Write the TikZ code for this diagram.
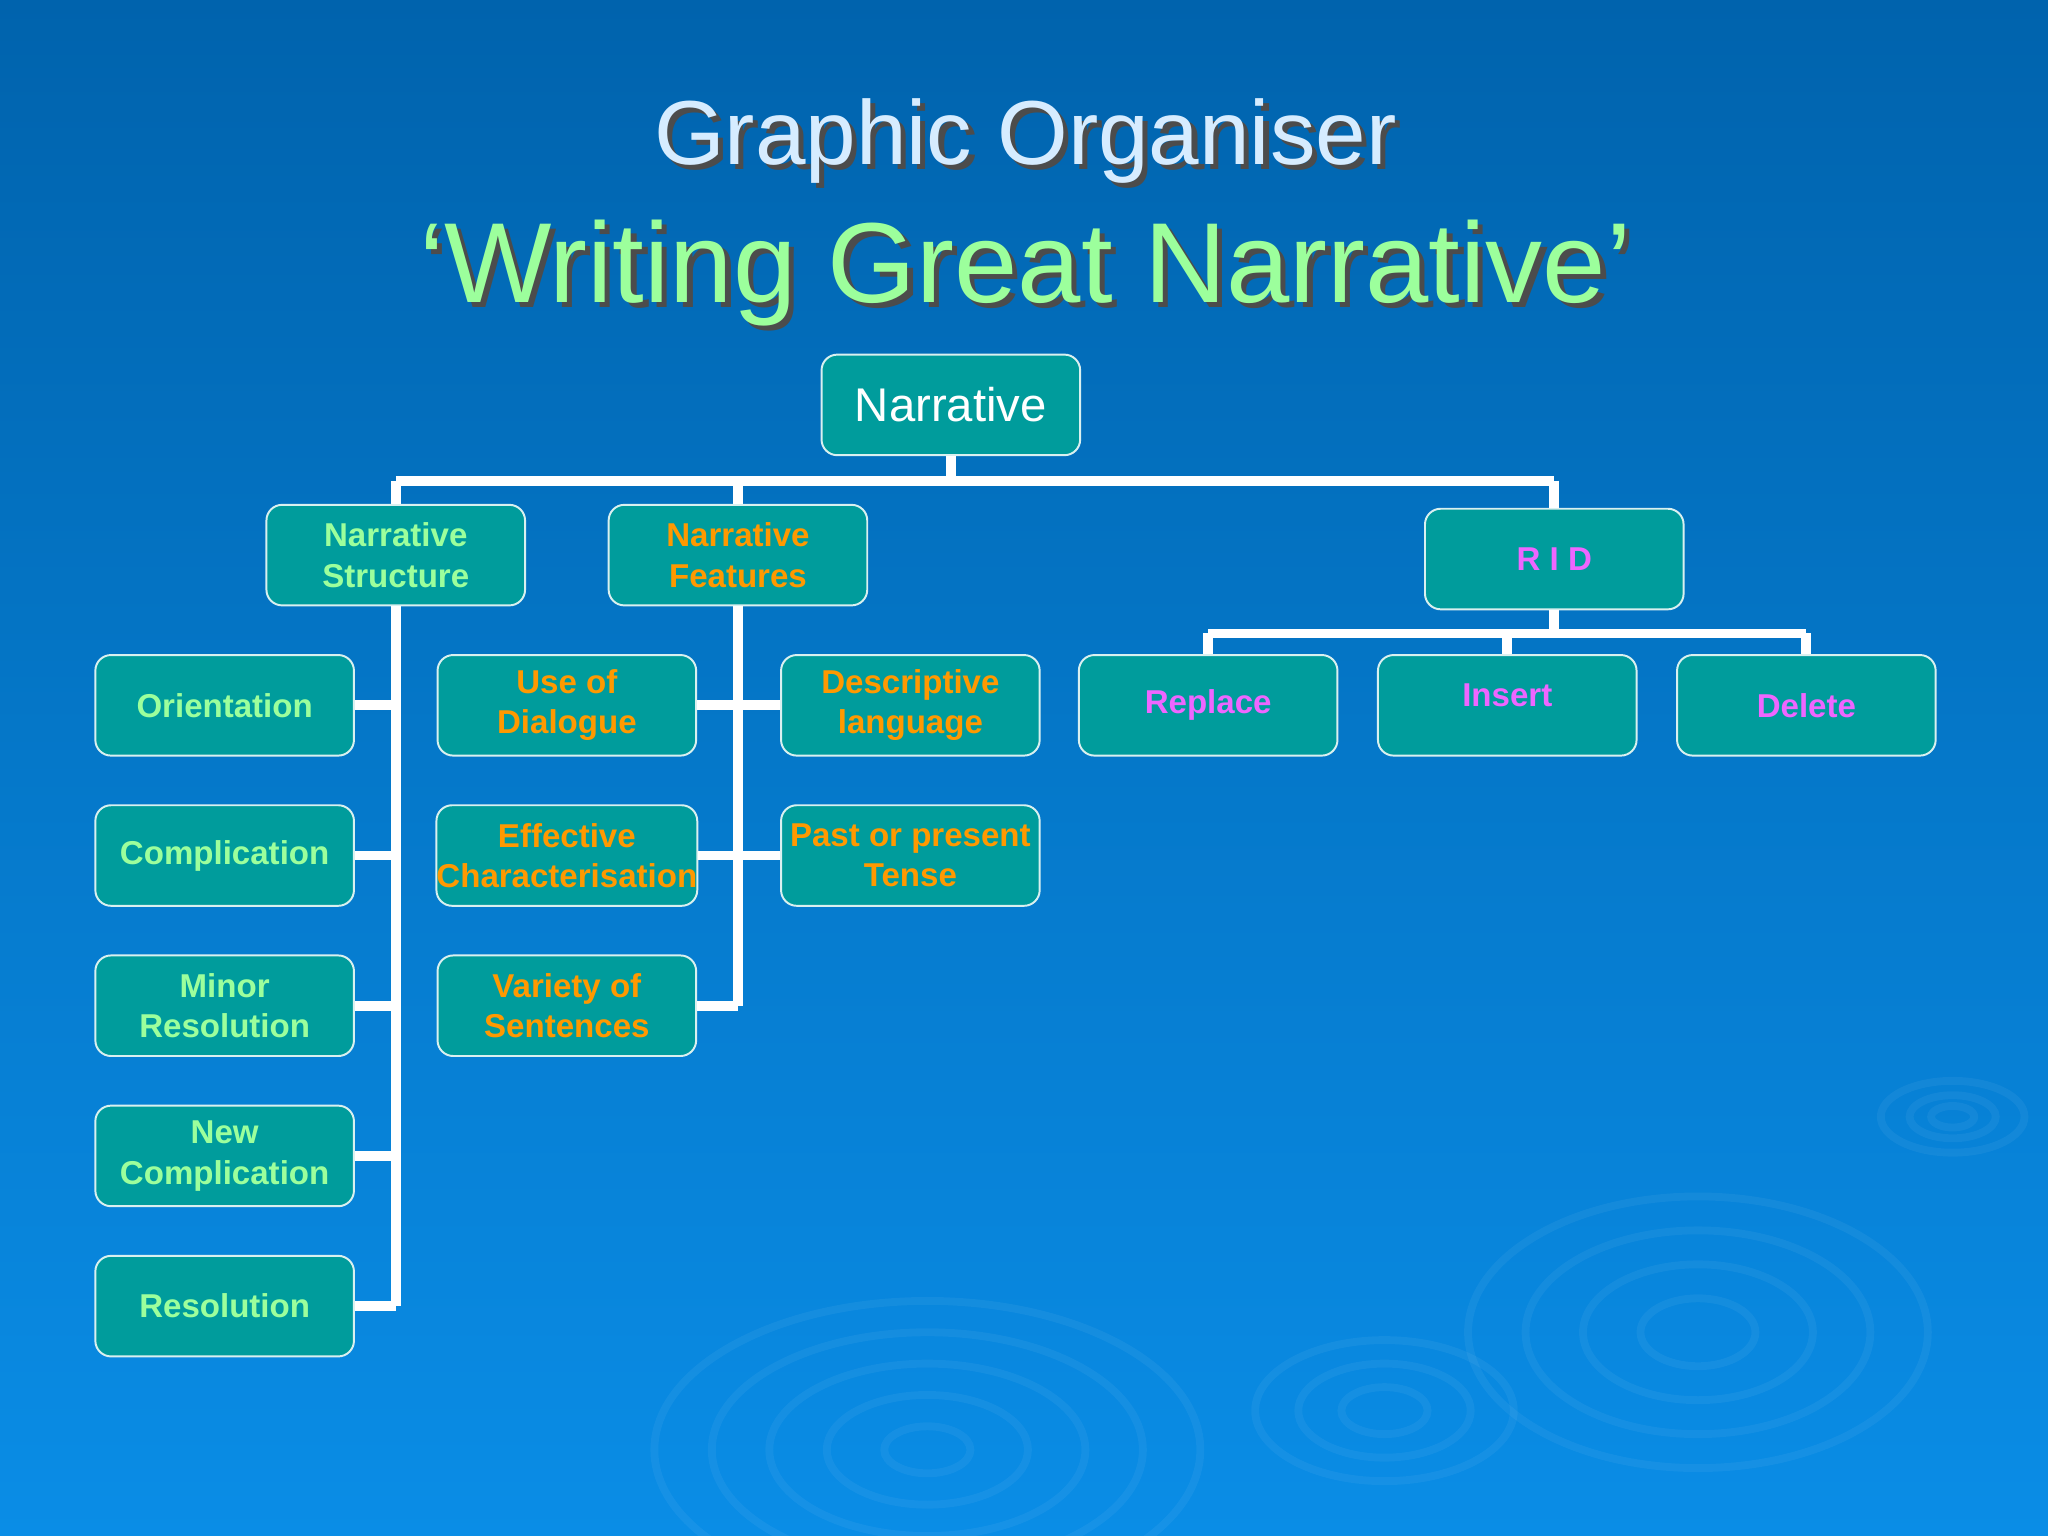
\documentclass[tikz,border=0pt]{standalone}
\usepackage{fontspec}
\setmainfont{Liberation Sans}
\usetikzlibrary{positioning}
\definecolor{bgtop}{HTML}{0063AD}
\definecolor{bgbot}{HTML}{0A8DE6}
\definecolor{teal}{HTML}{009C9C}
\definecolor{tgreen}{HTML}{9CFF9C}
\definecolor{torange}{HTML}{FF9900}
\definecolor{tpink}{HTML}{EE66FF}
\definecolor{ttitle}{HTML}{D6ECFF}
\tikzset{
 box/.style={draw=white!85!teal, line width=0.15mm, fill=teal, rounded corners=1.2mm,
   minimum width=19.8mm, minimum height=7.7mm, align=center, inner sep=0pt,
   font=\fontsize{7.2pt}{8.8pt}\selectfont\bfseries},
 gbox/.style={box, text=tgreen},
 obox/.style={box, text=torange},
 pbox/.style={box, text=tpink},
 wire/.style={draw=white, line width=0.75mm},
 ripple/.style={draw=white, opacity=0.05, line width=0.6mm}
}
\begin{document}
\begin{tikzpicture}[x=0.1mm,y=-0.1mm]
\useasboundingbox (0,0) rectangle (1568,1176);
\shade[top color=bgtop, bottom color=bgbot] (0,0) rectangle (1568,1176);
% ripples
\foreach \r in {40,80,120,160}{\draw[ripple] (1300,1020) ellipse ({\r*1.1} and {\r*0.65});}
\foreach \r in {30,70,110,150,190}{\draw[ripple] (710,1110) ellipse ({\r*1.1} and {\r*0.6});}
\foreach \r in {30,60,90}{\draw[ripple] (1060,1080) ellipse ({\r*1.1} and {\r*0.6});}
\foreach \r in {15,30,50}{\draw[ripple] (1495,855) ellipse ({\r*1.1} and {\r*0.55});}
% titles
\node[text=black!70, font=\fontsize{19.8pt}{22pt}\selectfont] at (789,112) {Graphic Organiser};
\node[text=ttitle, font=\fontsize{19.8pt}{22pt}\selectfont] (t1) at (785,108) {Graphic Organiser};
\node[text=black!70, font=\fontsize{24.8pt}{28pt}\selectfont] at (789,213) {‘Writing Great Narrative’};
\node[text=tgreen, font=\fontsize{24.8pt}{28pt}\selectfont] (t2) at (785,209) {‘Writing Great Narrative’};
% nodes
\node[box, text=white, font=\fontsize{10.3pt}{12pt}\selectfont] (nar) at (728,310) {Narrative};
\node[gbox] (ns) at (303,425) {Narrative\\Structure};
\node[obox] (nf) at (565,425) {Narrative\\Features};
\node[pbox] (rid) at (1190,428) {R I D};
\node[gbox] (l1) at (172,540) {Orientation};
\node[gbox] (l2) at (172,655) {Complication};
\node[gbox] (l3) at (172,770) {Minor\\Resolution};
\node[gbox] (l4) at (172,885) {New\\ Complication};
\node[gbox] (l5) at (172,1000) {Resolution};
\node[obox] (m1) at (434,540) {Use of\\Dialogue};
\node[obox] (m2) at (434,655) {Effective\\Characterisation};
\node[obox] (m3) at (434,770) {Variety of\\Sentences};
\node[obox] (r1) at (697,540) {Descriptive\\language};
\node[obox] (r2) at (697,655) {Past or present\\Tense};
\node[pbox] (x1) at (925,540) {Replace};
\node[pbox] (x2) at (1154,540) {\raisebox{1.5mm}{Insert}};
\node[pbox] (x3) at (1383,540) {\raisebox{-0.5mm}{Delete}};
% connectors
\coordinate (hub) at (728,368);
\draw[wire] (nar.south) -- (hub);
\draw[wire] (303,368) -- (1190,368);
\draw[wire] (303,368) -- (ns.north);
\draw[wire] (565,368) -- (nf.north);
\draw[wire] (1190,368) -- (rid.north);
\coordinate (nsb) at (303,1000);
\draw[wire] (ns.south) -- (nsb);
\foreach \n in {l1,l2,l3,l4,l5}{\draw[wire] (\n.east) -- (\n.east -| nsb);}
\draw[wire] (nf.south) -- (565,770);
\foreach \n in {m1,m2,m3}{\draw[wire] (\n.east) -- (\n.east -| nf);}
\foreach \n in {r1,r2}{\draw[wire] (\n.west) -- (\n.west -| nf);}
\draw[wire] (rid.south) -- (1190,485);
\draw[wire] (925,485) -- (1383,485);
\foreach \n in {x1,x2,x3}{\draw[wire] (\n.north |- 0,485) -- (\n.north);}
\end{tikzpicture}
\end{document}
